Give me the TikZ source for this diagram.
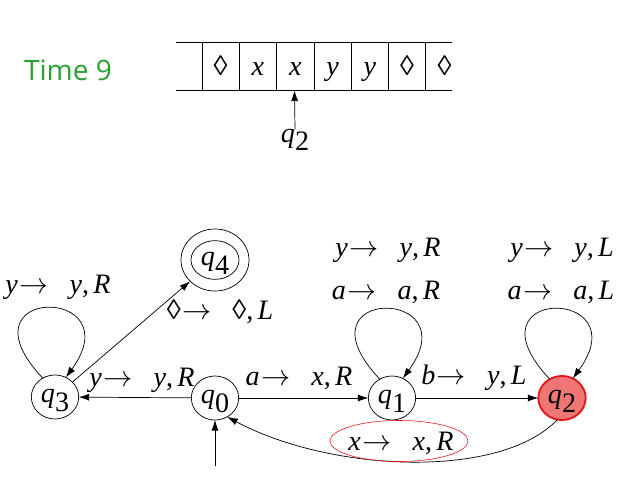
\documentclass[tikz,border=0pt]{standalone}
\usepackage{fontspec}
\setmainfont{Liberation Serif}
\newfontfamily\timefont{Open Sans}
\usetikzlibrary{arrows.meta}
\usetikzlibrary{shapes.geometric}
\definecolor{G}{RGB}{40,160,50}
\definecolor{F}{RGB}{240,118,118}
\definecolor{E}{RGB}{228,24,24}
\newcommand*{\qsub}[1]{\textit{q}\raisebox{-7pt}{#1}}
\newcommand*{\dia}{\textup{◊}}
\newcommand*{\trans}[3]{#1\hspace{0.05em}$\rightarrow$\hspace{0.75em}#2,\hspace{0.15em}#3}
\tikzstyle{base}=[x=0.03cm, y=0.03cm, line width=0.6pt, inner sep=0pt, outer sep=0pt,
    >={Latex[length=9pt,width=6pt]}, font=\fontsize{24}{28}\selectfont]
\tikzstyle{state}=[draw, ellipse, minimum width=1.42cm, minimum height=1.32cm,
    text height=15pt, text depth=5pt]
\tikzstyle{final}=[state, fill=F, draw=E, line width=1.6pt]
\tikzstyle{cell}=[anchor=base]

\begin{document}
\begin{tikzpicture}[base]
    \path [use as bounding box] (0,0) rectangle (638,-478);
    % tape
    \node [G, font=\timefont\fontsize{24}{28}\selectfont] (time) at (68,-70) {Time 9};
    \draw (176,-42) -- (452,-42);
    \draw (176,-90) -- (452,-90);
    \foreach \k in {0,...,6}
        \draw (202 + 37.3*\k,-42) -- (202 + 37.3*\k,-90);
    \foreach \s [count=\i] in {\dia,\textit{x},\textit{x},\textit{y},\textit{y},\dia,\dia}
        \node [cell] (c\i) at (202 + 37.3*\i - 18.65,-76) {\s};
    \node (head) at (295,-140) {\qsub{2}};
    \coordinate (pos) at (294.5,-90.5);
    \draw [->] (head.north) -- (pos);

    % states
    \node [state] (q3) at (55,-397) {\qsub{3}};
    \node [state] (q0) at (215,-398) {\qsub{0}};
    \node [state] (q1) at (392,-398) {\qsub{1}};
    \node [final] (q2) at (562,-398) {\qsub{2}};
    \node [state, minimum width=1.44cm, minimum height=1.16cm] (q4) at (215,-260) {\qsub{4}};
    \node [state, minimum width=2.04cm, minimum height=1.86cm] (q4o) at (215,-260) {};
    \coordinate (start) at (215,-466);

    \draw [->] (start) -- (q0);
    \draw [->] (q0) -- (q3);
    \draw [->] (q0) -- (q1);
    \draw [->] (q1) -- (q2);
    \draw [->] (q3) -- (q4o);
    \draw [->] (q2.258) .. controls (500,-480) and (330,-472) .. (q0.-57);
    \foreach \n in {q3,q1,q2}
        \draw [->] (\n.123) .. controls ([shift={(-100,112)}]\n.center)
            and ([shift={(78,112)}]\n.center) .. (\n.61);

    % labels
    \node (l3) at (58,-287) {\trans{\textit{y}}{\textit{y}}{\textit{R}}};
    \node (l34) at (220,-312) {\trans{\dia}{\dia}{\textit{L}}};
    \node (l03) at (142,-380) {\trans{\textit{y}}{\textit{y}}{\textit{R}}};
    \node (l01) at (299,-378) {\trans{\textit{a}}{\textit{x}}{\textit{R}}};
    \node (l12) at (474,-378) {\trans{\textit{b}}{\textit{y}}{\textit{L}}};
    \node (l1a) at (388,-250) {\trans{\textit{y}}{\textit{y}}{\textit{R}}};
    \node (l1b) at (386,-292) {\trans{\textit{a}}{\textit{a}}{\textit{R}}};
    \node (l2a) at (562,-250) {\trans{\textit{y}}{\textit{y}}{\textit{L}}};
    \node (l2b) at (561,-292) {\trans{\textit{a}}{\textit{a}}{\textit{L}}};
    \node (l20) at (401,-443) {\trans{\textit{x}}{\textit{x}}{\textit{R}}};
    \node [draw=E, line width=0.5pt, ellipse, minimum width=4.14cm, minimum height=1.23cm] (mark) at (399,-441) {};
\end{tikzpicture}
\end{document}
